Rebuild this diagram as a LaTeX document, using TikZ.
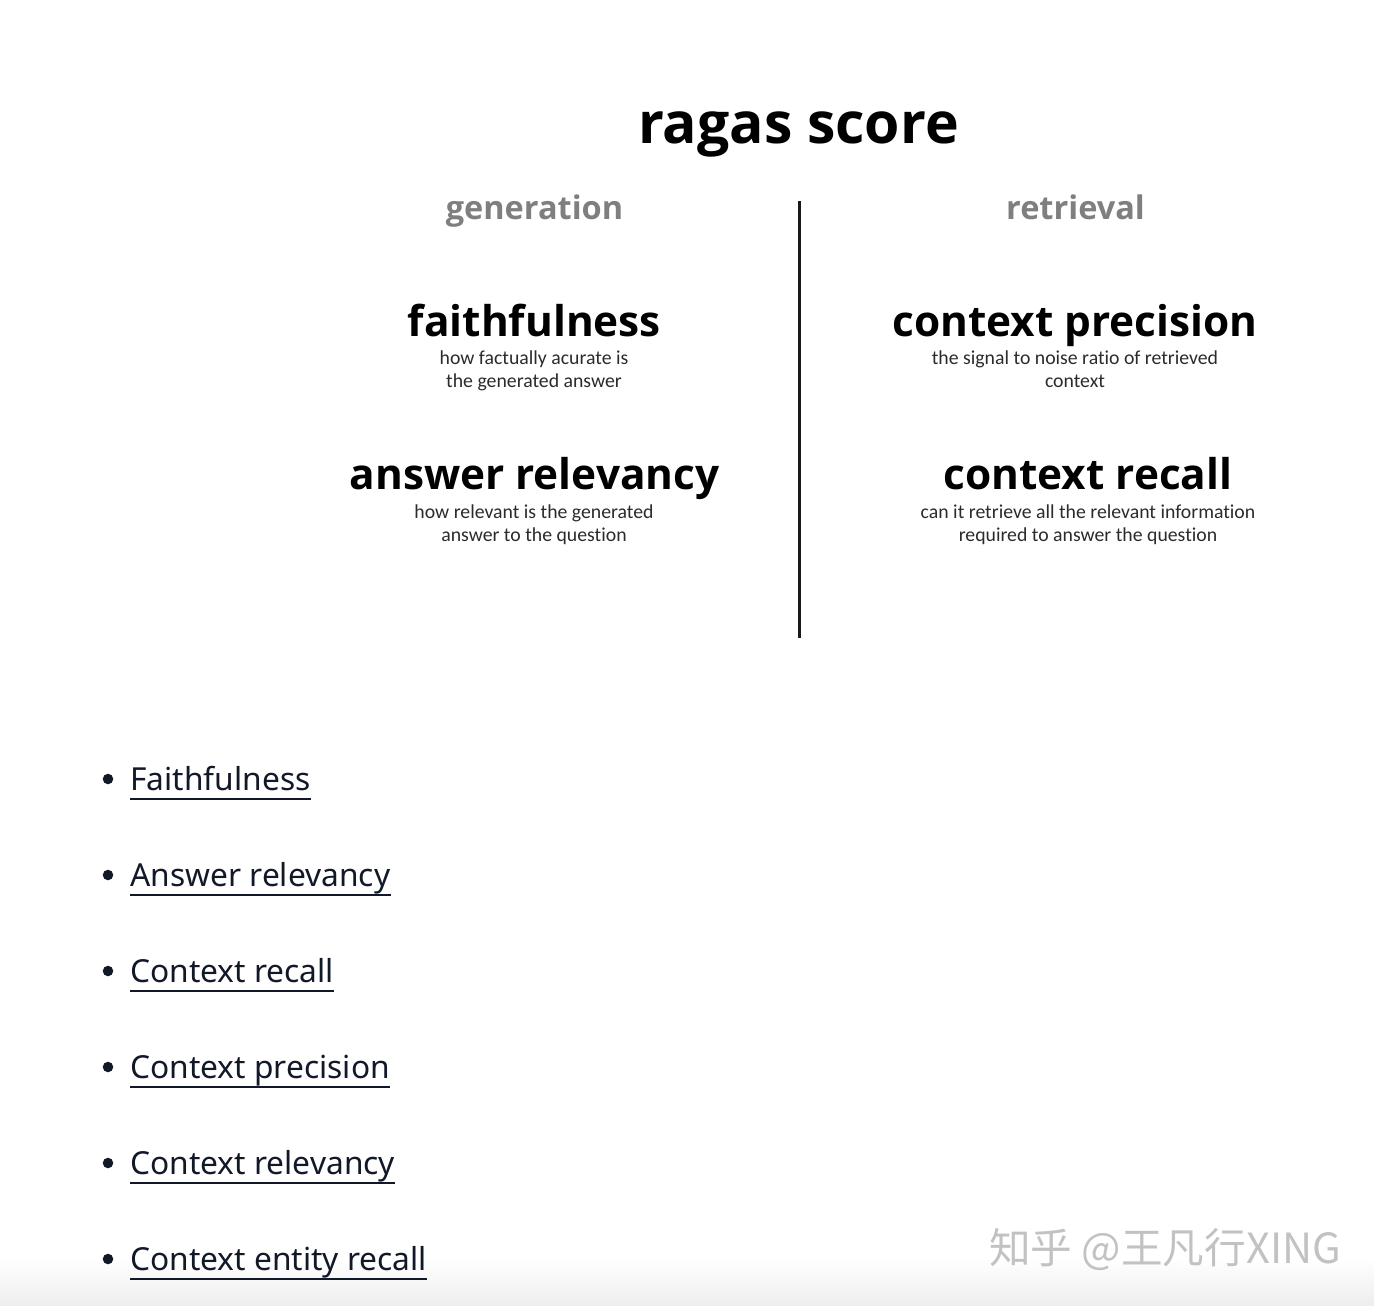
\documentclass[tikz,border=0pt]{standalone}
\usepackage{fontspec}
\setmainfont{Open Sans}
\newfontfamily\subfont[Ligatures=CommonOff]{Carlito}
\newfontfamily\listfont{Noto Sans}
\newfontfamily\cjk{Noto Sans CJK SC}
\definecolor{listink}{HTML}{111827}
\definecolor{headgray}{HTML}{7F7F7F}
\definecolor{subink}{HTML}{2B2B2B}
\definecolor{markgray}{HTML}{C2C2C2}
\definecolor{fadegray}{HTML}{EDEDED}
\tikzset{
	title/.style={anchor=base,inner sep=0pt,font=\bfseries\fontsize{32.5}{34}\selectfont},
	head/.style={anchor=base,inner sep=0pt,text=headgray,font=\bfseries\fontsize{18.5}{20}\selectfont},
	metric/.style={anchor=base,inner sep=0pt,font=\bfseries\fontsize{24.1}{26}\selectfont},
	info/.style={anchor=center,inner sep=0pt,align=center,text=subink,font=\subfont\fontsize{11.25}{13.1}\selectfont},
	entry/.style={anchor=base west,inner sep=0pt,text=listink,font=\listfont\fontsize{18.05}{20}\selectfont},
	dot/.style={circle,fill=listink,inner sep=0pt,minimum size=6pt},
	link/.style={draw=listink,line width=0.95pt},
	divider/.style={draw=black!90,line width=1.3pt}
}
\begin{document}
\begin{tikzpicture}[x=0.02cm,y=-0.02cm]
	\useasboundingbox (0,0) rectangle (1374,1306);
	\shade[top color=white,bottom color=fadegray] (0,1258) rectangle (1374,1306);
	\node[title] (score) at (798.5,143) {ragas score};
	\node[head] (generation) at (534.5,219) {generation};
	\node[head] (retrieval) at (1075.5,219) {retrieval};
	\coordinate (top) at (799.5,201);
	\coordinate (bottom) at (799.5,638);
	\draw[divider] (top) -- (bottom);
	\node[metric] (faith) at (534.5,336) {faithfulness};
	\node[info] (faithinfo) at (534,370.7) {how factually acurate is\\the generated answer};
	\node[metric] (answer) at (534.5,489) {answer relevancy};
	\node[info] (answerinfo) at (534,524.7) {how relevant is the generated\\answer to the question};
	\node[metric] (precision) at (1075,336) {context precision};
	\node[info] (precisioninfo) at (1075,369.5) {the signal to noise ratio of retrieved\\context};
	\node[metric] (recall) at (1088,489) {context recall};
	\node[info] (recallinfo) at (1088,524.7) {can it retrieve all the relevant information\\required to answer the question};
	\foreach \name/\row/\txt in {a/791/Faithfulness,b/887/Answer relevancy,c/983/Context recall,d/1079/Context precision,e/1175/Context relevancy,f/1271/Context entity recall}{
		\node[entry] (\name) at (130,\row-1) {\txt};
		\node[dot] (\name dot) at (108,\row-12) {};
		\draw[link] ([yshift=-5.1pt]\name.base west) -- ([yshift=-5.1pt]\name.base east);
	}
	\node[anchor=base west,inner sep=0pt,text=markgray,font=\cjk\fontsize{23.7}{25}\selectfont] (mark) at (989,1263) {知乎 @王凡行XING};
\end{tikzpicture}
\end{document}
